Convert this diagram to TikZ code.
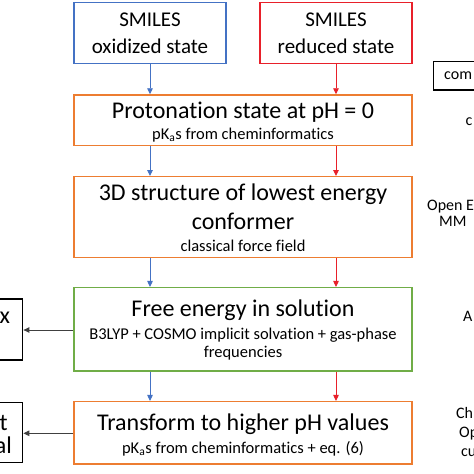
\documentclass[tikz,border=0pt]{standalone}
\usepackage{fontspec}
\setmainfont{Carlito}[Ligatures={NoCommon}]
\usetikzlibrary{arrows.meta}
\definecolor{cblue}{HTML}{4472C4}
\definecolor{cred}{HTML}{E8202A}
\definecolor{corange}{HTML}{ED7D31}
\definecolor{cgreen}{HTML}{70AD47}
\definecolor{cgray}{HTML}{404040}
\newcommand{\fs}[2]{\fontsize{#1}{#2}\selectfont}
\begin{document}
\begin{tikzpicture}[x=1pt,y=-1pt,
  box/.style={draw, line width=1.4pt, inner sep=0pt, anchor=center},
  wide/.style={box, minimum width=338pt},
  small/.style={box, minimum width=152pt, minimum height=60.6pt},
  con/.style={line width=0.9pt, -{Triangle[length=6pt,width=5.5pt]}},
  big/.style={inner sep=0pt, anchor=base, font=\fs{24}{28}},
  mid/.style={inner sep=0pt, anchor=base, font=\fs{21}{25}},
  sub/.style={inner sep=0pt, anchor=base, font=\fs{16.5}{20}},
  side/.style={inner sep=0pt, anchor=base west, font=\fs{16}{20}},
]
\useasboundingbox (0,0) rectangle (474,474);
\clip (0,0) rectangle (474,474);
\fill[white] (0,0) rectangle (474,474);

% boxes
\node[small, draw=cblue] (sox) at (150,33) {};
\node[small, draw=cred] (sred) at (336,33) {};
\node[wide, draw=corange, minimum height=50.7pt] (prot) at (243,120.3) {};
\node[wide, draw=corange, minimum height=81pt] (struct) at (243,217.2) {};
\node[wide, draw=cgreen, minimum height=83.3pt] (free) at (243,329.3) {};
\node[wide, draw=corange, minimum height=62.3pt] (trans) at (243,432.8) {};

% texts
\node[mid] (sox1) at (150,26.7) {SMILES};
\node[mid] (sox2) at (150,53.3) {oxidized state};
\node[mid] (sred1) at (336,26.7) {SMILES};
\node[mid] (sred2) at (336,53.3) {reduced state};
\node[big] (prot1) at (243,118.3) {Protonation state at pH = 0};
\node[sub] (prot2) at (243,139.3) {pK\textsubscript{a}s from cheminformatics};
\node[big] (struct1) at (243,200.7) {3D structure of lowest energy};
\node[big] (struct2) at (243,229.3) {conformer};
\node[sub] (struct3) at (243,251) {classical force field};
\node[big] (free1) at (243,316.7) {Free energy in solution};
\node[sub] (free2) at (243,339) {B3LYP + COSMO implicit solvation + gas-phase};
\node[sub] (free3) at (243,357.7) {frequencies};
\node[big] (trans1) at (243,430) {Transform to higher pH values};
\node[sub] (trans2) at (243,453.3) {pK\textsubscript{a}s from cheminformatics + eq. (6)};

% vertical connectors
\draw[con, cblue] (sox.south) -- (sox.south |- prot.north);
\draw[con, cred] (sred.south) -- (sred.south |- prot.north);
\draw[con, cblue] (prot.south -| sox.south) -- (struct.north -| sox.south);
\draw[con, cred] (prot.south -| sred.south) -- (struct.north -| sred.south);
\draw[con, cblue] (struct.south -| sox.south) -- (free.north -| sox.south);
\draw[con, cred] (struct.south -| sred.south) -- (free.north -| sred.south);
\draw[con, cblue] (free.south -| sox.south) -- (trans.north -| sox.south);
\draw[con, cred] (free.south -| sred.south) -- (trans.north -| sred.south);

% left boxes
\node[box, minimum width=40pt, minimum height=61pt] (lb1) at (2.7,329.5) {};
\node[box, minimum width=40pt, minimum height=60pt] (lb2) at (2.7,432.7) {};
\node[big, anchor=base east] (lt1) at (10.3,323.3) {x};
\node[big, anchor=base east] (lt2) at (7.8,430) {t};
\node[big, anchor=base east] (lt3) at (12,453.3) {al};
\draw[con, cgray] (free.west |- 0,330) -- (lb1.east |- 0,330);
\draw[con, cgray] (trans.west |- 0,433.3) -- (lb2.east |- 0,433.3);

% right side
\node[box, anchor=west, minimum height=28.5pt, minimum width=80pt] (rb) at (432.5,75.8) {};
\node[side] (rbt) at (444,79.5) {com};
\node[side] (r1) at (465.5,125) {c};
\node[side] (r2) at (427,210.7) {Open E};
\node[side] (r3) at (439,226.7) {MM};
\node[side] (r4) at (463,321.7) {A};
\node[side] (r5) at (456,418.3) {Ch};
\node[side] (r6) at (459,437) {Op};
\node[side] (r7) at (461,456.7) {cu};
\end{tikzpicture}
\end{document}
